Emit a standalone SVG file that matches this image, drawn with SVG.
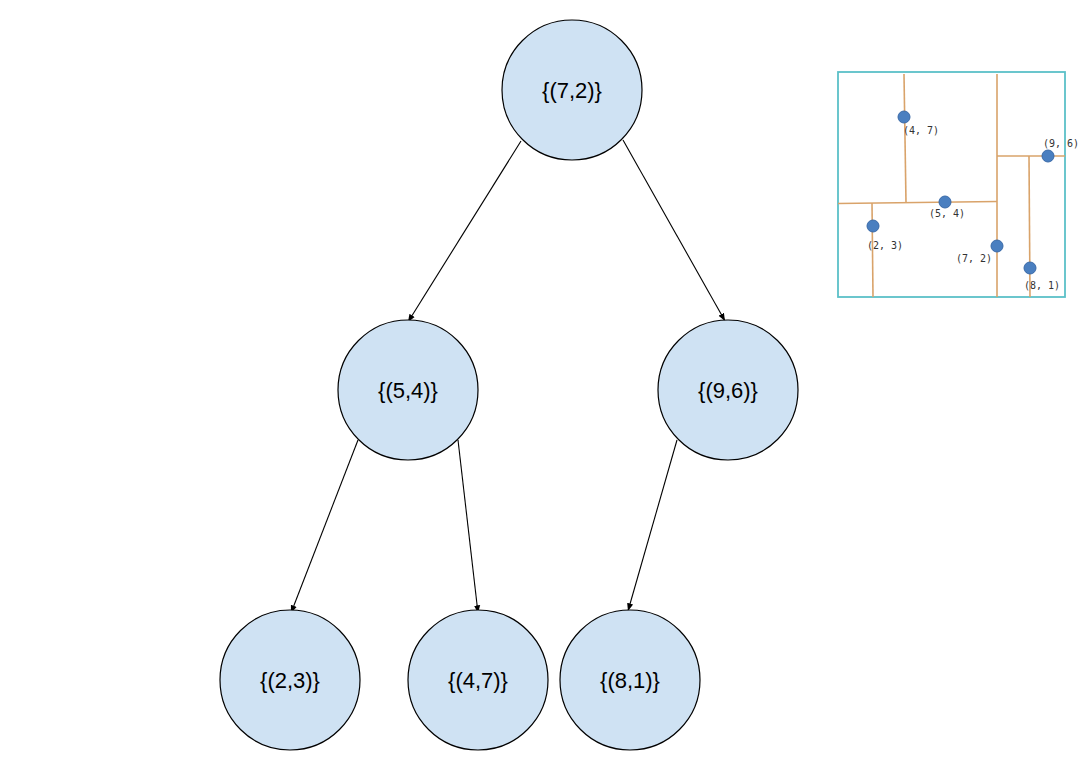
<svg xmlns="http://www.w3.org/2000/svg" width="1080" height="771" viewBox="0 0 1080 771">
<style>
.n{fill:#cfe2f3;stroke:#000;stroke-width:1.2}
.t{font-family:"Liberation Sans",Arial,sans-serif;font-size:22px;text-anchor:middle;fill:#000}
.e{stroke:#000;stroke-width:1.1;fill:none;marker-end:url(#a)}
.s{stroke:#d9a36a;stroke-width:1.6;fill:none}
.p{fill:#4a7fc0;stroke:#3a6aa8}
.l{font-family:"DejaVu Sans Mono",monospace;font-size:10px;fill:#333}
</style>
<defs><marker id="a" viewBox="0 0 10 10" refX="10" refY="5" markerWidth="7" markerHeight="7" orient="auto"><path d="M0,1 L10,5 L0,9 z" fill="#000"/></marker></defs>
<rect width="1080" height="771" fill="#fff"/>
<g id="connectors">
<line class="e" x1="521" y1="141" x2="408" y2="322"/>
<line class="e" x1="623" y1="140" x2="725" y2="321"/>
<line class="e" x1="358" y1="440" x2="291" y2="613"/>
<line class="e" x1="458" y1="440" x2="478" y2="613"/>
<line class="e" x1="677" y1="440" x2="628" y2="611"/>
</g>
<g id="n72"><circle class="n" cx="572" cy="90" r="70"/><text class="t" x="572" y="98">{(7,2)}</text></g>
<g id="n54"><circle class="n" cx="408" cy="390" r="70"/><text class="t" x="408" y="398">{(5,4)}</text></g>
<g id="n96"><circle class="n" cx="728" cy="390" r="70"/><text class="t" x="728" y="398">{(9,6)}</text></g>
<g id="n23"><circle class="n" cx="290" cy="680" r="70"/><text class="t" x="290" y="688">{(2,3)}</text></g>
<g id="n47"><circle class="n" cx="478" cy="680" r="70"/><text class="t" x="478" y="688">{(4,7)}</text></g>
<g id="n81"><circle class="n" cx="630" cy="680" r="70"/><text class="t" x="630" y="688">{(8,1)}</text></g>
<g id="inset">
<rect x="838" y="72" width="227" height="225" fill="#fff" stroke="#5bc0c8" stroke-width="1.8"/>
<line class="s" x1="997" y1="74" x2="997" y2="297"/>
<line class="s" x1="838" y1="203.5" x2="997" y2="201.5"/>
<line class="s" x1="904" y1="74" x2="906" y2="203"/>
<line class="s" x1="872" y1="203" x2="873" y2="297"/>
<line class="s" x1="997" y1="156" x2="1065" y2="156"/>
<line class="s" x1="1029" y1="156" x2="1030" y2="297"/>
<circle class="p" cx="904" cy="117" r="6"/>
<circle class="p" cx="945" cy="202" r="6"/>
<circle class="p" cx="873" cy="226" r="6"/>
<circle class="p" cx="997" cy="246" r="6"/>
<circle class="p" cx="1030" cy="268" r="6"/>
<circle class="p" cx="1048" cy="156" r="6"/>
<text class="l" x="903" y="134">(4, 7)</text>
<text class="l" x="929" y="217">(5, 4)</text>
<text class="l" x="867" y="249">(2, 3)</text>
<text class="l" x="956" y="262">(7, 2)</text>
<text class="l" x="1024" y="289">(8, 1)</text>
<text class="l" x="1043" y="147">(9, 6)</text>
</g>
</svg>
